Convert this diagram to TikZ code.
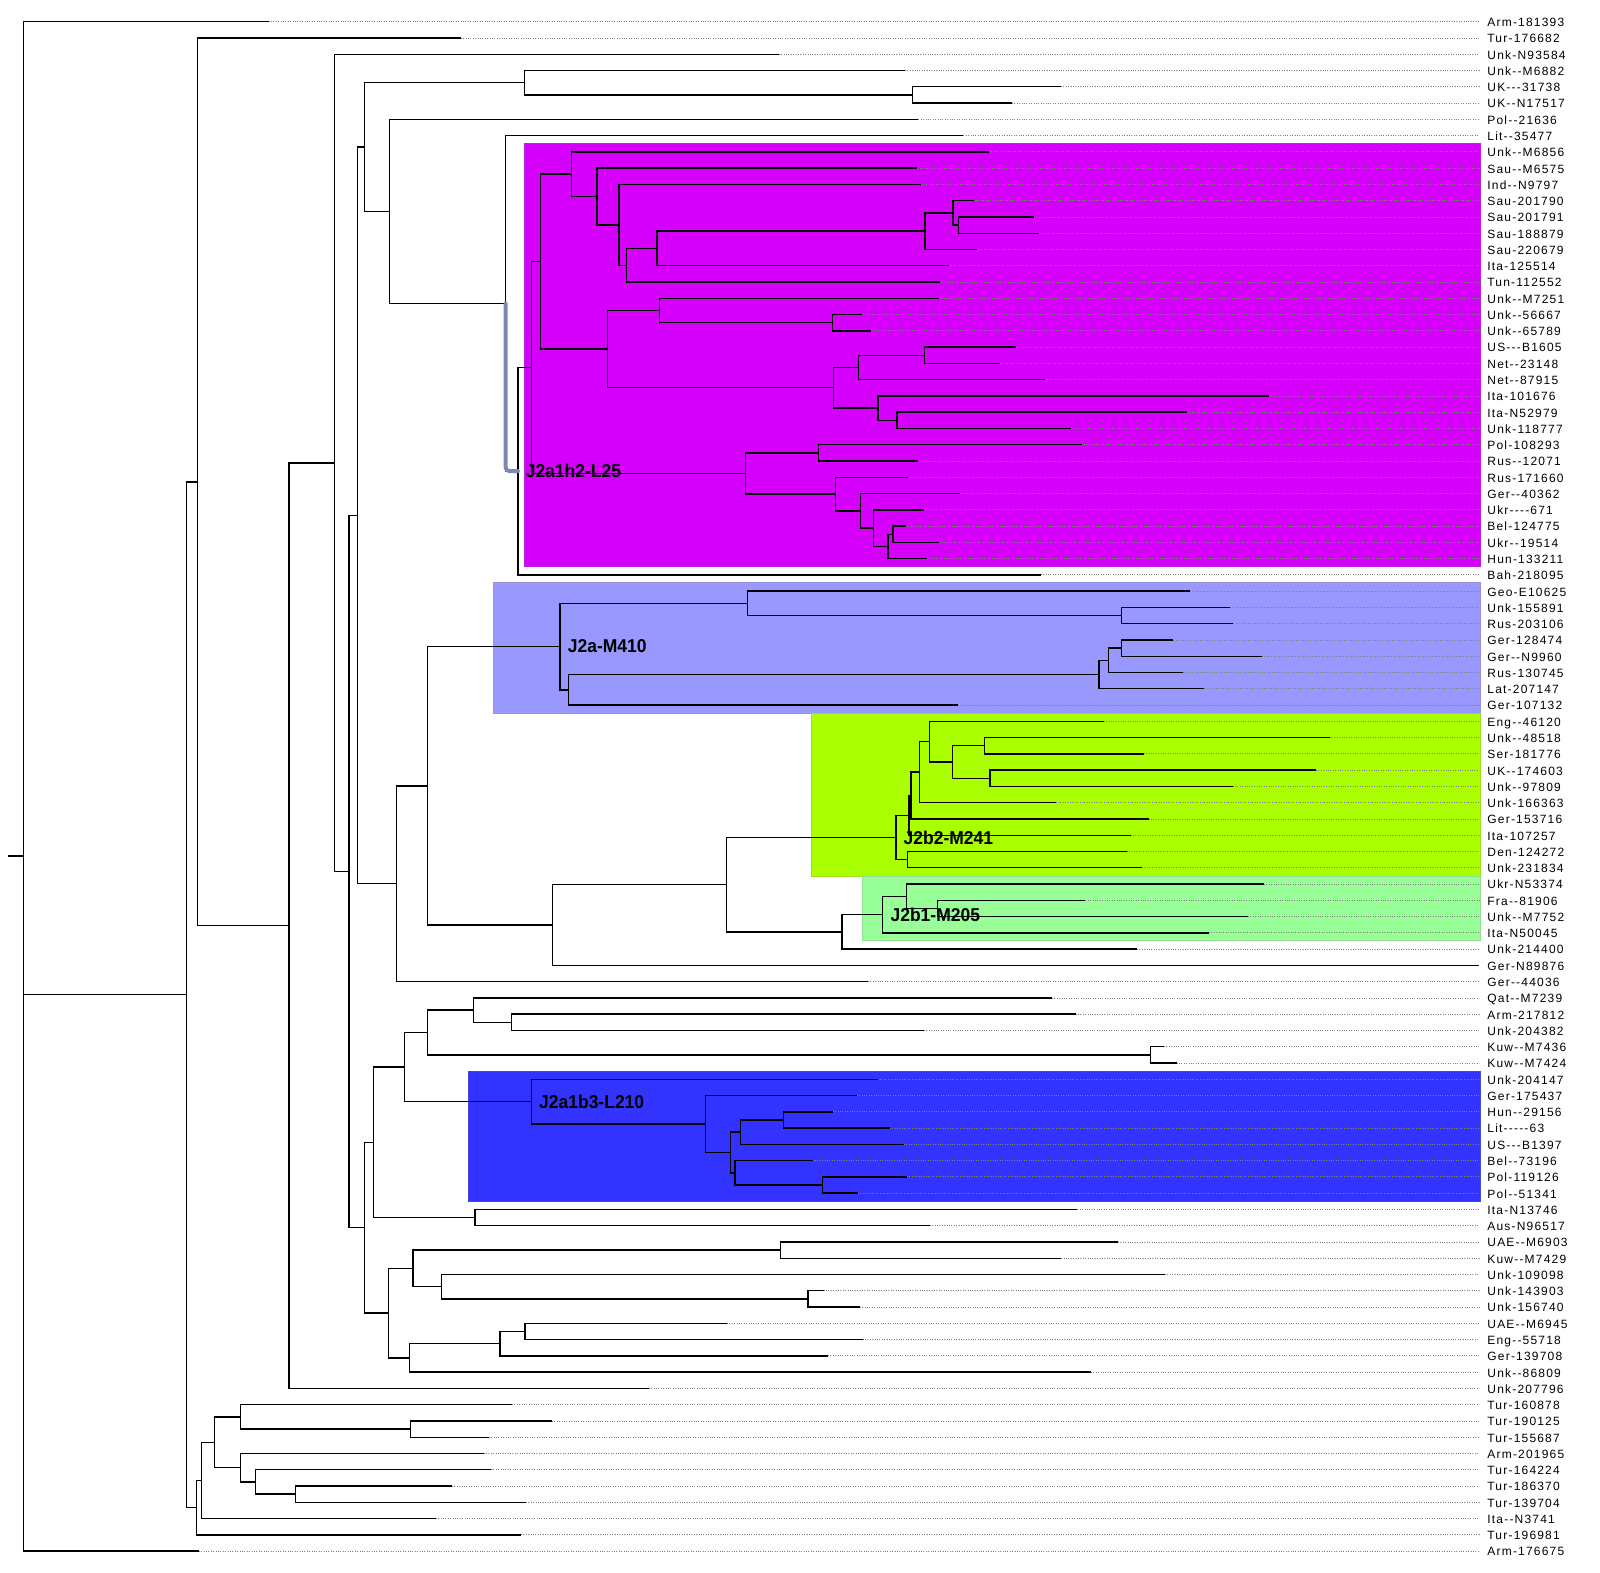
\documentclass[tikz,border=0pt]{standalone}
\usepackage{fontspec}
\newfontfamily\leaffont[LetterSpace=10,Ligatures=TeXOff]{Liberation Sans}
\newfontfamily\cladefont[FakeStretch=0.94,Ligatures=TeXOff]{Liberation Sans}
\definecolor{hapH2}{RGB}{212,0,252}
\definecolor{hapA}{RGB}{152,152,255}
\definecolor{hapBtwo}{RGB}{170,255,0}
\definecolor{hapBone}{RGB}{152,255,152}
\definecolor{hapBthree}{RGB}{51,51,255}
\definecolor{selblue}{RGB}{125,135,180}
\tikzset{
  branch/.style={line width=0.7pt, black},
  tipdots/.style={gray, line width=0.4pt, dash pattern=on 0.4pt off 0.8pt},
  leaflabel/.style={anchor=base west, inner sep=0pt, font=\leaffont\fontsize{6}{7}\selectfont},
  cladelabel/.style={anchor=west, inner sep=0pt, xshift=3.75pt, font=\cladefont\bfseries\fontsize{9.3}{10}\selectfont},
  cladebox/.style={fill=#1, draw=#1!75!gray, line width=0.3pt},
  hilite/.style={selblue, line width=2pt, rounded corners=2pt, line cap=round}
}
\begin{document}
\begin{tikzpicture}[x=0.5pt, y=-8.135pt]
  \useasboundingbox (0,-1.334) rectangle (1600,95.347);

  % clade boxes
  \path[cladebox=hapH2] (524.5,7.47) rectangle (1480,33.5);
  \path[cladebox=hapA] (493.7,34.48) rectangle (1480,42.5);
  \path[cladebox=hapBtwo] (811,42.5) rectangle (1480,52.5);
  \path[cladebox=hapBone] (862.5,52.5) rectangle (1480,56.48);
  \path[cladebox=hapBthree] (468,64.49) rectangle (1480,72.5);

  % leaves
  \foreach \i/\tx/\lab in {0/268.5/Arm-181393, 1/460.7/Tur-176682, 2/778.8/Unk-N93584, 3/905/Unk--M6882,
      4/1061/UK---31738, 5/1012/UK--N17517, 6/918.4/Pol--21636, 7/963.3/Lit--35477,
      8/988.8/Unk--M6856, 9/917.3/Sau--M6575, 10/921.4/Ind--N9797, 11/973.5/Sau-201790,
      12/1033.7/Sau-201791, 13/1038.8/Sau-188879, 14/976.5/Sau-220679, 15/949/Ita-125514,
      16/940.3/Tun-112552, 17/938.8/Unk--M7251, 18/862.2/Unk--56667, 19/870.9/Unk--65789,
      20/1015.8/US---B1605, 21/1000/Net--23148, 22/1044.9/Net--87915, 23/1268.9/Ita-101676,
      24/1187.2/Ita-N52979, 25/1070.9/Unk-118777, 26/1081.6/Pol-108293, 27/918.3/Rus--12071,
      28/908.3/Rus-171660, 29/960/Ger--40362, 30/924.3/Ukr----671, 31/906/Bel-124775,
      32/939.3/Ukr--19514, 33/926.7/Hun-133211, 34/1040.8/Bah-218095, 35/1190/Geo-E10625,
      36/1230/Unk-155891, 37/1233.3/Rus-203106, 38/1173.3/Ger-128474, 39/1261.7/Ger--N9960,
      40/1182.7/Rus-130745, 41/1204/Lat-207147, 42/957.9/Ger-107132, 43/1103.7/Eng--46120,
      44/1329.6/Unk--48518, 45/1143.8/Ser-181776, 46/1316/UK--174603, 47/1232.6/Unk--97809,
      48/1055.5/Unk-166363, 49/1148.5/Ger-153716, 50/1130.6/Ita-107257, 51/1126.6/Den-124272,
      52/1142/Unk-231834, 53/1264/Ukr-N53374, 54/1085.3/Fra--81906, 55/1248/Unk--M7752,
      56/1209/Ita-N50045, 57/1137/Unk-214400, 58/1479/Ger-N89876, 59/868/Ger--44036,
      60/1052/Qat--M7239, 61/1075.5/Arm-217812, 62/924/Unk-204382, 63/1164/Kuw--M7436,
      64/1176.6/Kuw--M7424, 65/878/Unk-204147, 66/856.8/Ger-175437, 67/832.7/Hun--29156,
      68/890/Lit-----63, 69/903.9/US---B1397, 70/812.6/Bel--73196, 71/906.8/Pol-119126,
      72/858/Pol--51341, 73/1077.3/Ita-N13746, 74/929.7/Aus-N96517, 75/1118/UAE--M6903,
      76/1061.2/Kuw--M7429, 77/1165/Unk-109098, 78/823.5/Unk-143903, 79/859.7/Unk-156740,
      80/727/UAE--M6945, 81/862.6/Eng--55718, 82/828/Ger-139708, 83/1091/Unk--86809,
      84/648.7/Unk-207796, 85/512/Tur-160878, 86/552/Tur-190125, 87/488.8/Tur-155687,
      88/483.5/Arm-201965, 89/491/Tur-164224, 90/452/Tur-186370, 91/526/Tur-139704,
      92/435.7/Ita--N3741, 93/521/Tur-196981, 94/198.7/Arm-176675}{
    \coordinate (L\i) at (\tx,\i);
    \coordinate (E\i) at (1479,\i);
    \node (N\i) [leaflabel] at (1487,\i+0.3) {\lab};
    \draw[tipdots] (L\i) -- (E\i);
  }

  % internal nodes
  \coordinate (base) at (8.2,51.268);
  \coordinate (root) at (23.5,51.268);
  \coordinate (A) at (186.7,59.804);
  \coordinate (B) at (197.4,28.279);
  \coordinate (C) at (289,55.558);
  \coordinate (P) at (334.7,27.117);
  \coordinate (Q) at (348.8,52.234);
  \coordinate (R) at (357.4,30.342);
  \coordinate (S) at (364.3,7.704);
  \coordinate (s1) at (524.5,3.75);
  \coordinate (s1a) at (912.2,4.5);
  \coordinate (s2) at (389.3,11.657);
  \coordinate (s3) at (505.6,17.314);
  \coordinate (s4) at (517.9,27.628);
  \coordinate (s5) at (531.6,21.257);
  \coordinate (p1) at (540.3,14.748);
  \coordinate (p1a) at (571.4,9.371);
  \coordinate (p1b) at (597,10.742);
  \coordinate (p1c) at (618.9,12.484);
  \coordinate (p1d) at (626.5,14.969);
  \coordinate (p1e) at (657.1,13.938);
  \coordinate (p1f) at (925,12.875);
  \coordinate (p1g) at (953,11.75);
  \coordinate (p1h) at (958.7,12.5);
  \coordinate (p2) at (607.7,20.125);
  \coordinate (p2a) at (659.7,17.75);
  \coordinate (p2b) at (832.7,18.5);
  \coordinate (p2c) at (833.7,22.5);
  \coordinate (p2d) at (858.7,21.25);
  \coordinate (p2e) at (924.5,20.5);
  \coordinate (p2f) at (878,23.75);
  \coordinate (p2g) at (897,24.5);
  \coordinate (p3) at (745.4,27.766);
  \coordinate (p3a) at (818.4,26.5);
  \coordinate (p3b) at (835.2,29.031);
  \coordinate (p3c) at (860.2,30.063);
  \coordinate (p3d) at (873.4,31.125);
  \coordinate (p3e) at (888,32.25);
  \coordinate (p3f) at (893.1,31.5);
  \coordinate (U) at (396.4,52.981);
  \coordinate (V) at (427.4,46.963);
  \coordinate (J2a) at (560,38.406);
  \coordinate (j0) at (747.2,35.75);
  \coordinate (j1) at (1121.2,36.5);
  \coordinate (j5) at (568.7,41.063);
  \coordinate (j2) at (1099,40.125);
  \coordinate (j3) at (1108.3,39.25);
  \coordinate (j4) at (1121.7,38.5);
  \coordinate (X) at (552.6,55.52);
  \coordinate (Y) at (726.5,53.039);
  \coordinate (J2b2) at (895.8,50.141);
  \coordinate (a4) at (909,48.781);
  \coordinate (a3) at (911,47.563);
  \coordinate (a2) at (919.5,46.125);
  \coordinate (a1) at (929.5,44.25);
  \coordinate (a7) at (952.5,45.5);
  \coordinate (a5) at (984.3,44.5);
  \coordinate (a6) at (990,46.5);
  \coordinate (a8) at (907.5,51.5);
  \coordinate (Z) at (842,55.938);
  \coordinate (J2b1) at (882.7,54.875);
  \coordinate (c1) at (906.7,53.75);
  \coordinate (c2) at (937.3,54.5);
  \coordinate (T) at (364.3,74.125);
  \coordinate (T1) at (373.5,68.875);
  \coordinate (T1a) at (404.5,64.25);
  \coordinate (T1b) at (427.4,62.125);
  \coordinate (tb) at (473.4,60.75);
  \coordinate (ta) at (511.3,61.5);
  \coordinate (tc) at (1150.2,63.5);
  \coordinate (J2a1b3) at (531.3,66.375);
  \coordinate (b1) at (705.3,67.75);
  \coordinate (b2) at (730.5,69.5);
  \coordinate (b3) at (740.3,68.25);
  \coordinate (b4) at (783.3,67.5);
  \coordinate (b5) at (735.1,70.75);
  \coordinate (b6) at (822.4,71.5);
  \coordinate (T1c) at (475.1,73.5);
  \coordinate (T2) at (388.4,79.375);
  \coordinate (T2a) at (413.1,76.625);
  \coordinate (u1) at (780.5,75.5);
  \coordinate (u2) at (441.2,77.75);
  \coordinate (u3) at (808,78.5);
  \coordinate (T2b) at (409.6,82.125);
  \coordinate (v1) at (499.8,81.25);
  \coordinate (v2) at (525,80.5);
  \coordinate (D) at (196.4,91.328);
  \coordinate (E) at (201.3,89.656);
  \coordinate (F) at (214.3,87.313);
  \coordinate (G) at (240.6,85.75);
  \coordinate (H) at (410.7,86.5);
  \coordinate (I) at (240.6,88.875);
  \coordinate (J) at (255.4,89.75);
  \coordinate (K) at (295.5,90.5);

  % branches
  \draw[branch] (base) -- (root);
  \foreach \p/\c in {root/L0, root/A, root/L94, A/B, A/D, B/L1, B/C, C/P, C/L84, P/L2, P/Q,
      Q/R, Q/T, R/S, R/U, S/s1, S/s2, s1/L3, s1/s1a, s1a/L4, s1a/L5, s2/L6, s2/s3,
      s3/L7, s3/s4, s4/s5, s4/L34, s5/p1, s5/p3, p1/p1a, p1/p2, p1a/L8, p1a/p1b,
      p1b/L9, p1b/p1c, p1c/L10, p1c/p1d, p1d/p1e, p1d/L16, p1e/p1f, p1e/L15,
      p1f/p1g, p1f/L14, p1g/L11, p1g/p1h, p1h/L12, p1h/L13, p2/p2a, p2/p2c,
      p2a/L17, p2a/p2b, p2b/L18, p2b/L19, p2c/p2d, p2c/p2f, p2d/p2e, p2d/L22,
      p2e/L20, p2e/L21, p2f/L23, p2f/p2g, p2g/L24, p2g/L25, p3/p3a, p3/p3b,
      p3a/L26, p3a/L27, p3b/L28, p3b/p3c, p3c/L29, p3c/p3d, p3d/L30, p3d/p3e,
      p3e/p3f, p3e/L33, p3f/L31, p3f/L32, U/V, U/L59, V/J2a, V/X, J2a/j0, J2a/j5,
      j0/L35, j0/j1, j1/L36, j1/L37, j5/j2, j5/L42, j2/j3, j2/L41, j3/j4, j3/L40,
      j4/L38, j4/L39, X/Y, X/L58, Y/J2b2, Y/Z, J2b2/a4, J2b2/a8, a4/a3, a4/L50,
      a3/a2, a3/L49, a2/a1, a2/L48, a1/L43, a1/a7, a7/a5, a7/a6, a5/L44, a5/L45,
      a6/L46, a6/L47, a8/L51, a8/L52, Z/J2b1, Z/L57, J2b1/c1, J2b1/L56, c1/L53,
      c1/c2, c2/L54, c2/L55, T/T1, T/T2, T1/T1a, T1/T1c, T1a/T1b, T1a/J2a1b3,
      T1b/tb, T1b/tc, tb/L60, tb/ta, ta/L61, ta/L62, tc/L63, tc/L64,
      J2a1b3/L65, J2a1b3/b1, b1/L66, b1/b2, b2/b3, b2/b5, b3/b4, b3/L69, b4/L67,
      b4/L68, b5/L70, b5/b6, b6/L71, b6/L72, T1c/L73, T1c/L74, T2/T2a, T2/T2b,
      T2a/u1, T2a/u2, u1/L75, u1/L76, u2/L77, u2/u3, u3/L78, u3/L79, T2b/v1,
      T2b/L83, v1/v2, v1/L82, v2/L80, v2/L81, D/E, D/L93, E/F, E/L92, F/G, F/I,
      G/L85, G/H, H/L86, H/L87, I/L88, I/J, J/L89, J/K, K/L90, K/L91}
    \draw[branch] (\p) |- (\c);

  % selected branch
  \draw[hilite] (s3) |- (s4);

  % clade names
  \node (labH2) [cladelabel] at (s4) {J2a1h2-L25};
  \node (labM410) [cladelabel] at (J2a) {J2a-M410};
  \node (labM241) [cladelabel] at (J2b2) {J2b2-M241};
  \node (labM205) [cladelabel] at (J2b1) {J2b1-M205};
  \node (labL210) [cladelabel] at (J2a1b3) {J2a1b3-L210};
\end{tikzpicture}
\end{document}
